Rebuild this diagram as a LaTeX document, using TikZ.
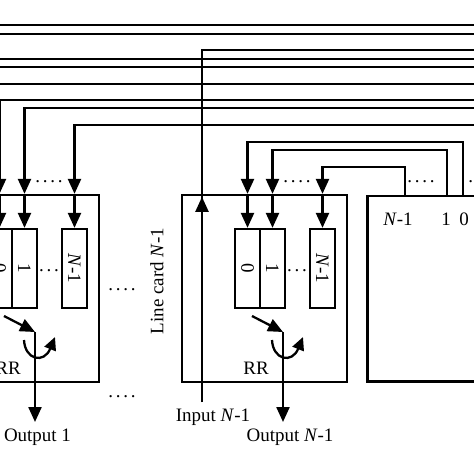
\documentclass[tikz,border=0pt]{standalone}
\usepackage{fontspec}
\setmainfont{Liberation Serif}
\usetikzlibrary{arrows.meta, positioning, calc}
\newcommand{\nN}{\textit{N}}
\newcommand{\dotsfour}{.\hspace{1.6pt}.\hspace{1.6pt}.\hspace{1.6pt}.}
\newcommand{\dotsthree}{.\hspace{1.6pt}.\hspace{1.6pt}.}

\begin{document}
\begin{tikzpicture}[
x=0.2mm, y=-0.2mm,
font=\fontsize{10.8pt}{13pt}\selectfont,
wire/.style={line width=1.3pt},
arr/.style={line width=1.3pt, -{Triangle[length=3mm,width=2.6mm]}},
arrsmall/.style={line width=1.3pt, -{Triangle[length=2.6mm,width=2.4mm]}},
cardbox/.style={
rectangle,
draw=black,
line width=1.3pt,
minimum width=33mm,
minimum height=37.4mm
},
queuebox/.style={
rectangle,
draw=black,
line width=1.3pt,
inner sep=0pt,
minimum width=5mm,
minimum height=15.8mm
},
txt/.style={inner sep=0pt}
]
\useasboundingbox (0,0) rectangle (474,474);
\clip (0,0) rectangle (474,474);

% boxes
\node[cardbox] (card1) at (16.5,288.5) {};
\node[cardbox] (card2) at (264.5,288.5) {};
\coordinate (fabric) at (367.5,196);
\draw[wire] (fabric -| 560,0) -- (fabric) -- (367.5,381.5) -- (560,381.5);

% queues
\node[queuebox] (q10) at (-0.5,268.5) {\rotatebox{-90}{0}};
\node[queuebox] (q11) at (24.5,268.5) {\rotatebox{-90}{1}};
\node[queuebox] (q1n) at (74.5,268.5) {\rotatebox{-90}{\nN-1}};
\node[queuebox] (q20) at (247.5,268.5) {\rotatebox{-90}{0}};
\node[queuebox] (q21) at (272.5,268.5) {\rotatebox{-90}{1}};
\node[queuebox] (q2n) at (322.5,268.5) {\rotatebox{-90}{\nN-1}};

% texts
\node[txt, rotate=90] (cardlbl) at (157,281) {Line card \nN-1};
\node[txt] (rr1) at (8,368) {RR};
\node[txt] (rr2) at (256,368) {RR};
\node[txt] (outlbl1) at (37.5,437) {Output 1};
\node[txt] (outlbl2) at (290,437) {Output \nN-1};
\node[txt] (inlbl2) at (213,417) {Input \nN-1};
\node[txt] (portn) at (398,219) {\nN-1};
\node[txt] (port1) at (446,219) {1};
\node[txt] (port0) at (464,219) {0};

% dots
\node[txt] (dq1) at (49,271) {\dotsthree};
\node[txt] (dq2) at (297,271) {\dotsthree};
\node[txt] (dt1) at (49,182) {\dotsfour};
\node[txt] (dt2) at (297,182) {\dotsfour};
\node[txt] (dp1) at (421,182) {\dotsfour};
\node[txt] (dp2) at (482,182) {\dotsfour};
\node[txt] (dm1) at (122,290) {\dotsfour};
\node[txt] (dm2) at (122,397) {\dotsfour};

% bus lines
\foreach \y in {25,34,59,67,84,100}
  \draw[wire] (-10,\y) coordinate (bl\y) -- (484,\y) coordinate (br\y);

% line card 1 inputs
\coordinate (b108) at (484,108);
\coordinate (b125) at (484,125);
\draw[arr] (q10 |- br100) -- (q10 |- card1.north);
\draw[arr] (b108) -| (q11 |- card1.north);
\draw[arr] (b125) -| (q1n |- card1.north);
\draw[arr] (q10 |- card1.north) -- (q10.north);
\draw[arr] (q11 |- card1.north) -- (q11.north);
\draw[arr] (q1n |- card1.north) -- (q1n.north);

% line card N-1 inputs from the fabric ports
\coordinate (p0) at (463,196);
\coordinate (p1) at (447,196);
\coordinate (pn) at (405,196);
\draw[arr] (p0) -- (p0 |- 0,142) -| (q20 |- card2.north);
\draw[arr] (p1) -- (p1 |- 0,150) -| (q21 |- card2.north);
\draw[arr] (pn) -- (pn |- 0,167) -| (q2n |- card2.north);
\draw[arr] (q20 |- card2.north) -- (q20.north);
\draw[arr] (q21 |- card2.north) -- (q21.north);
\draw[arr] (q2n |- card2.north) -- (q2n.north);

% input N-1
\coordinate (in2) at (202,402);
\coordinate (b50) at (484,50);
\draw[wire] (in2) -- (in2 |- b50) -- (b50);
\draw[arr] (in2) -- ($(in2 |- card2.north)+(0,3)$);

% round robin schedulers
\coordinate (rrs1) at (4,316);
\coordinate (sw1) at (35,332);
\coordinate (out1) at (35,422);
\draw[arr] (rrs1) -- (sw1);
\draw[arr] (sw1) -- (out1);
\draw[arrsmall] (24,340) .. controls (25,360) and (44,364) .. (55,337);

\coordinate (rrs2) at (252,316);
\coordinate (sw2) at (283,332);
\coordinate (out2) at (283,422);
\draw[arr] (rrs2) -- (sw2);
\draw[arr] (sw2) -- (out2);
\draw[arrsmall] (272,340) .. controls (273,360) and (292,364) .. (303,337);

\end{tikzpicture}
\end{document}
